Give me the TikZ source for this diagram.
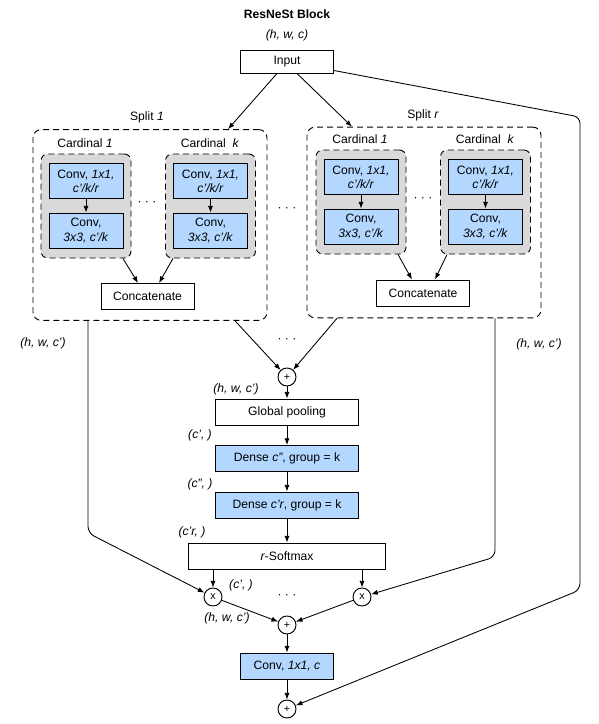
\documentclass[tikz,border=0pt]{standalone}
\usepackage{fontspec}
\setmainfont{Liberation Sans}
\usetikzlibrary{
	arrows.meta,
	calc
}
\definecolor{convblue}{RGB}{179,215,255}
\definecolor{cardgray}{RGB}{217,217,217}
\tikzset{
	every node/.append style={
		font=\fontsize{9.1}{10.6}\selectfont
	},
	arr/.style={
		draw,
		line width=.65pt,
		-{Latex[length=5pt,width=3.8pt]}
	},
	plainbox/.style={
		draw,
		line width=.7pt,
		minimum width=#1,
		minimum height=19.5pt,
		inner sep=0pt
	},
	densebox/.style={
		plainbox=#1,
		fill=convblue
	},
	convbox/.style={
		draw,
		line width=.7pt,
		fill=convblue,
		align=center,
		minimum width=55.5pt,
		minimum height=26.25pt,
		inner sep=0pt
	},
	cardbox/.style={
		draw,
		line width=.7pt,
		dash pattern=on 4.5pt off 3pt,
		rounded corners=5pt,
		fill=cardgray,
		minimum width=67.5pt,
		minimum height=78pt
	},
	splitbox/.style={
		draw,
		line width=.7pt,
		dash pattern=on 4.5pt off 3pt,
		rounded corners=6pt,
		minimum width=175.5pt,
		minimum height=143pt
	},
	opcirc/.style={
		draw,
		circle,
		line width=.7pt,
		minimum size=13.5pt,
		inner sep=0pt,
		font=\fontsize{8}{9}\selectfont
	},
	dimlbl/.style={
		font=\fontsize{9.1}{10.6}\selectfont\itshape
	}
}

\begin{document}
\begin{tikzpicture}[x=.75pt,y=-.75pt] %%%%%%%% RESNEST BLOCK
		\useasboundingbox (0,0) rectangle (599,724);
		\node[font=\fontsize{9.1}{10.6}\selectfont\bfseries] (title) at (287,14) {ResNeSt Block};
		\node[dimlbl] (inshape) at (287,35) {(h, w, c)};
		\node[plainbox=69.75pt,minimum height=17.25pt] (input) at (287,61.5) {Input};
		% splits
		\node[splitbox] (split1) at (150,225) {};
		\node[splitbox] (splitr) at (424,222.5) {};
		\node (split1lbl) at (147,117) {Split \textit{1}};
		\node (splitrlbl) at (423,115) {Split \textit{r}};
		\node (card1a) at (85,143) {Cardinal \textit{1}};
		\node (cardka) at (210,143) {Cardinal\ \ \textit{k}};
		\node (card1b) at (360,139) {Cardinal \textit{1}};
		\node (cardkb) at (485,139) {Cardinal\ \ \textit{k}};
		\foreach \nm/\cx/\cy in {ca/86/206, cb/210.5/206, cc/361/202, cd/485.5/202} {
			\node[cardbox] (\nm) at (\cx,\cy) {};
			\node[convbox] (\nm top) at (\cx,\cy-25) {Conv, \textit{1x1,}\\\textit{c’/k/r}};
			\node[convbox] (\nm bot) at (\cx,\cy+24.5) {Conv,\\\textit{3x3, c’/k}};
			\draw[arr] (\nm top) -- (\nm bot);
		}
		\node[plainbox=69.75pt] (cat1) at (147.5,296.5) {Concatenate};
		\node[plainbox=69.75pt] (catr) at (423,293) {Concatenate};
		\draw[arr] ($(ca.south)+(37,0)$) -- ($(cat1.north)+(-9.5,0)$);
		\draw[arr] ($(cb.south)+(-37.5,0)$) -- ($(cat1.north)+(11.5,0)$);
		\draw[arr] ($(cc.south)+(37,0)$) -- ($(catr.north)+(-11,0)$);
		\draw[arr] ($(cd.south)+(-38.5,0)$) -- ($(catr.north)+(12,0)$);
		\node (dotsa) at (147,204) {· · ·};
		\node (dotsb) at (423,200) {· · ·};
		\node (dotsc) at (287,210) {· · ·};
		\draw[arr] ($(input.south)+(-10,0)$) -- ($(split1.north)+(78,0)$);
		\draw[arr] ($(input.south)+(10,0)$) -- ($(splitr.north)+(-72,0)$);
		% attention
		\node (dotsd) at (287,341) {· · ·};
		\node[opcirc] (plus1) at (287,377) {+};
		\node[dimlbl] (shape1) at (236,389) {(h, w, c’)};
		\node[plainbox=107.25pt] (pool) at (287,412) {Global pooling};
		\node[dimlbl] (shape2) at (200,435) {(c’, )};
		\node[densebox=107.25pt] (dense1) at (287,458.5) {Dense \textit{c”}, group = k};
		\node[dimlbl] (shape3) at (200,484) {(c”, )};
		\node[densebox=107.25pt] (dense2) at (287,505) {Dense \textit{c’r}, group = k};
		\node[dimlbl] (shape4) at (192,532) {(c’r, )};
		\node[plainbox=147.75pt] (smax) at (287,556) {\textit{r}-Softmax};
		\node[opcirc] (x1) at (213,597) {x};
		\node[opcirc] (x2) at (362,597) {x};
		\node[dimlbl] (shape5) at (241,585) {(c’, )};
		\node (dotse) at (287,597) {· · ·};
		\node[dimlbl] (shape6) at (227,618) {(h, w, c’)};
		\node[opcirc] (plus2) at (287,625) {+};
		\node[densebox=69.75pt] (conv) at (287,666) {Conv, \textit{1x1, c}};
		\node[opcirc] (plus3) at (287,709) {+};
		\node[dimlbl] (shapel) at (43,343) {(h, w, c’)};
		\node[dimlbl] (shaper) at (539,344) {(h, w, c’)};
		\draw[arr] ($(split1.south)+(85,0)$) -- (plus1);
		\draw[arr] ($(splitr.south)+(-87,0)$) -- (plus1);
		\draw[arr] (plus1) -- (pool);
		\draw[arr] (pool) -- (dense1);
		\draw[arr] (dense1) -- (dense2);
		\draw[arr] (dense2) -- (smax);
		\draw[arr] (smax.south -| x1) -- (x1);
		\draw[arr] (smax.south -| x2) -- (x2);
		\draw[arr, rounded corners=5pt] ($(split1.south)+(-62,0)$) -- (88,533) -- (x1);
		\draw[arr, rounded corners=5pt] ($(splitr.south)+(71,0)$) -- (495,557) -- (x2);
		\draw[arr] (x1) -- (plus2);
		\draw[arr] (x2) -- (plus2);
		\draw[arr] (plus2) -- (conv);
		\draw[arr] (conv) -- (plus3);
		% identity
		\draw[arr, rounded corners=5pt] ($(input.east)+(0,9)$) -- (580,117) -- (580,590) -- (plus3);
	\end{tikzpicture}
\end{document}
